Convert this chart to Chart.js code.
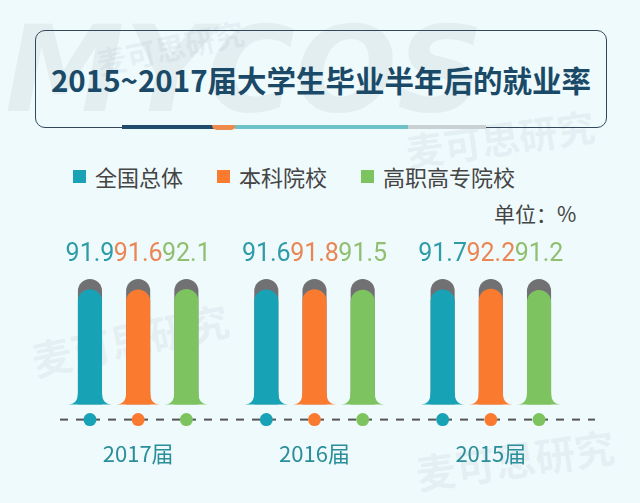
<!DOCTYPE html>
<html>
<head>
<meta charset="utf-8">
<script src="https://cdn.jsdelivr.net/npm/chart.js@4.4.1/dist/chart.umd.min.js"></script>
<style>
  html, body { margin: 0; padding: 0; }
  body {
    width: 640px; height: 503px; position: relative; overflow: hidden;
    background: #effafc;
    font-family: "Noto Sans CJK SC", "Noto Sans", sans-serif;
  }
  .wm { position: absolute; color: rgba(150, 165, 172, 0.13); font-weight: bold; white-space: nowrap; }
  #title-box {
    position: absolute; left: 35px; top: 30px; width: 570px; height: 96px;
    border: 1.5px solid #33485a; border-radius: 10px;
    display: flex; align-items: center; justify-content: center;
    color: #1b4a68; font-weight: bold; font-size: 29.5px; white-space: nowrap;
  }
  .stripe { position: absolute; height: 4px; top: 125px; }
  #legend { position: absolute; left: 73px; top: 160px; display: flex; align-items: center; }
  .lg-item { display: flex; align-items: center; margin-right: 34px; font-size: 22px; color: #444; }
  .lg-box { width: 13px; height: 13px; margin-right: 9px; }
  #unit { position: absolute; left: 494px; top: 198px; font-size: 21px; color: #444; }
  #wrap { position: absolute; left: 0; top: 240px; width: 640px; height: 263px; }
</style>
</head>
<body>
<div class="wm" style="left:5px; top:0px; font-size:120px; font-style:italic; font-family:'DejaVu Sans';">MYCOS</div>
<div class="wm" style="left:95px; top:25px; font-size:30px; transform:rotate(-12deg);">麦可思研究</div>
<div class="wm" style="left:405px; top:110px; font-size:38px; transform:rotate(-8deg);">麦可思研究</div>
<div class="wm" style="left:30px; top:310px; font-size:40px; transform:rotate(-12deg);">麦可思研究</div>
<div class="wm" style="left:415px; top:430px; font-size:40px; transform:rotate(-8deg);">麦可思研究</div>

<div id="title-box">2015~2017届大学生毕业半年后的就业率</div>
<div class="stripe" style="left:122px; width:92px; background:#1f4d6b;"></div>
<div class="stripe" style="left:212px; width:24px; background:#ee8a4a; border-radius:0 0 8px 8px; height:5px;"></div>
<div class="stripe" style="left:235px; width:173px; background:#6ec2c9;"></div>
<div class="stripe" style="left:408px; width:78px; background:#c9d1d3;"></div>

<div id="legend"></div>
<div id="unit">单位：%</div>
<div id="wrap"><canvas id="chart"></canvas></div>

<script>
    const categories = ["2017届", "2016届", "2015届"];
    const seriesNames = ["全国总体", "本科院校", "高职高专院校"];
    const overallRate = [91.9, 91.6, 91.7];
    const undergradRate = [91.6, 91.8, 92.2];
    const vocationalRate = [92.1, 91.5, 91.2];
    const trackMax = [100, 100, 100];

    const barColors = ["#17a3b5", "#fa7a30", "#7dc35f"];
    const labelColors = ["#2e9ca6", "#ea8654", "#8fbf6f"];
    const trackColor = "#717174";
    const seriesValues = [overallRate, undergradRate, vocationalRate];

    // legend
    const legend = document.getElementById("legend");
    legend.innerHTML = seriesNames.map((name, i) => `
        <div class="lg-item"><div class="lg-box" style="background:${barColors[i]}"></div>${name}</div>
    `).join("");

    // grey track + coloured bar share one stack slot (x stacked, y not)
    const trackSets = seriesNames.map((name, i) => ({
        label: name + " track",
        data: trackMax,
        stack: "s" + i,
        backgroundColor: trackColor,
        borderRadius: 12,
        order: 2
    }));
    const valueSets = seriesNames.map((name, i) => ({
        label: name,
        data: seriesValues[i],
        stack: "s" + i,
        backgroundColor: barColors[i],
        borderRadius: 12,
        order: 1
    }));

    // flared base, dashed baseline with dots, value labels
    const decorPlugin = {
        id: "decor",
        beforeDatasetsDraw(chart) {
            const ctx = chart.ctx;
            const area = chart.chartArea;
            ctx.save();
            ctx.strokeStyle = "#555";
            ctx.lineWidth = 2;
            ctx.setLineDash([8, 8]);
            ctx.beginPath();
            ctx.moveTo(area.left + 10, area.bottom + 15);
            ctx.lineTo(area.right + 16, area.bottom + 15);
            ctx.stroke();
            ctx.restore();
        },
        afterDatasetsDraw(chart) {
            const ctx = chart.ctx;
            const area = chart.chartArea;
            ctx.save();
            valueSets.forEach((ds, di) => {
                const meta = chart.getDatasetMeta(trackSets.length + di);
                meta.data.forEach((bar, i) => {
                    const half = bar.width / 2;
                    const b = bar.base;
                    ctx.fillStyle = barColors[di];
                    ctx.beginPath();
                    ctx.moveTo(bar.x - half, b - 12);
                    ctx.quadraticCurveTo(bar.x - half, b, bar.x - half - 10, b);
                    ctx.lineTo(bar.x + half + 10, b);
                    ctx.quadraticCurveTo(bar.x + half, b, bar.x + half, b - 12);
                    ctx.closePath();
                    ctx.fill();

                    ctx.beginPath();
                    ctx.arc(bar.x, area.bottom + 15, 6.5, 0, Math.PI * 2);
                    ctx.fill();

                    const top = chart.scales.y.getPixelForValue(100);
                    ctx.fillStyle = labelColors[di];
                    ctx.font = "25px Roboto";
                    ctx.textAlign = "center";
                    ctx.textBaseline = "middle";
                    ctx.fillText(ds.data[i].toFixed(1), bar.x, top - 24);
                });
            });
            ctx.restore();
        }
    };

    new Chart(document.getElementById("chart").getContext("2d"), {
        type: "bar",
        data: {
            labels: categories,
            datasets: [...trackSets, ...valueSets]
        },
        options: {
            responsive: true,
            maintainAspectRatio: false,
            animation: false,
            layout: { padding: { top: 39, left: 50, right: 61, bottom: 8 } },
            datasets: { bar: { categoryPercentage: 0.82, barPercentage: 0.5 } },
            plugins: { legend: { display: false }, tooltip: { enabled: false } },
            scales: {
                x: {
                    stacked: true,
                    grid: { display: false },
                    border: { display: false },
                    ticks: { color: "#2b8e9a", font: { size: 22, family: "'Noto Sans CJK SC'" }, padding: 28 }
                },
                y: { display: false, stacked: false, min: 0, max: 100 }
            }
        },
        plugins: [decorPlugin]
    });
</script>
</body>
</html>
